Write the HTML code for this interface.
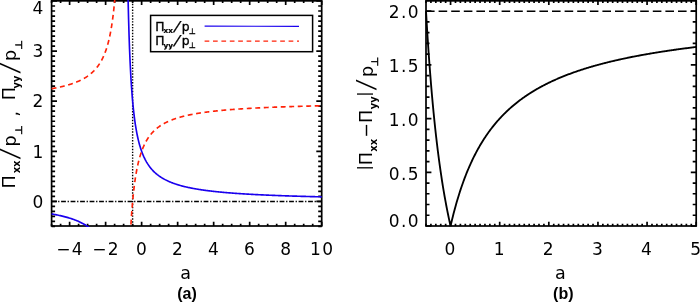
<!DOCTYPE html>
<html lang="en"><head><meta charset="utf-8"><title>Figure</title>
<style>html,body{margin:0;padding:0;background:#fff;}body{width:700px;height:302px;overflow:hidden;}svg{display:block;}text{font-family:"DejaVu Sans", "Liberation Sans", sans-serif;fill:#000;}.tk{font-size:17px;letter-spacing:1.3px;}.lab{font-size:17.5px;}.cap{font-family:"Liberation Sans",sans-serif;font-weight:bold;font-size:16px;}</style></head><body>
<svg width="700" height="302" viewBox="0 0 700 302">
<rect width="700" height="302" fill="#fff"/>
<defs><clipPath id="cl"><rect x="50.7" y="-0.05" width="271.9" height="226.95"/></clipPath>
<clipPath id="cr"><rect x="425.1" y="-0.05" width="272" height="226.95"/></clipPath></defs>
<path d="M51.6 226v-2.2M51.6 0.85v2.2M60.6 226v-2.2M60.6 0.85v2.2M69.61 226v-4.2M69.61 0.85v4.2M78.61 226v-2.2M78.61 0.85v2.2M87.61 226v-2.2M87.61 0.85v2.2M96.62 226v-2.2M96.62 0.85v2.2M105.62 226v-4.2M105.62 0.85v4.2M114.62 226v-2.2M114.62 0.85v2.2M123.63 226v-2.2M123.63 0.85v2.2M132.63 226v-2.2M132.63 0.85v2.2M141.63 226v-4.2M141.63 0.85v4.2M150.64 226v-2.2M150.64 0.85v2.2M159.64 226v-2.2M159.64 0.85v2.2M168.64 226v-2.2M168.64 0.85v2.2M177.65 226v-4.2M177.65 0.85v4.2M186.65 226v-2.2M186.65 0.85v2.2M195.65 226v-2.2M195.65 0.85v2.2M204.66 226v-2.2M204.66 0.85v2.2M213.66 226v-4.2M213.66 0.85v4.2M222.66 226v-2.2M222.66 0.85v2.2M231.67 226v-2.2M231.67 0.85v2.2M240.67 226v-2.2M240.67 0.85v2.2M249.67 226v-4.2M249.67 0.85v4.2M258.68 226v-2.2M258.68 0.85v2.2M267.68 226v-2.2M267.68 0.85v2.2M276.68 226v-2.2M276.68 0.85v2.2M285.69 226v-4.2M285.69 0.85v4.2M294.69 226v-2.2M294.69 0.85v2.2M303.69 226v-2.2M303.69 0.85v2.2M312.7 226v-2.2M312.7 0.85v2.2M321.7 226v-4.2M321.7 0.85v4.2M51.6 226.45h3.5M321.7 226.45h-3.5M51.6 221.44h3.5M321.7 221.44h-3.5M51.6 216.43h3.5M321.7 216.43h-3.5M51.6 211.42h3.5M321.7 211.42h-3.5M51.6 206.41h3.5M321.7 206.41h-3.5M51.6 201.4h5.4M321.7 201.4h-5.4M51.6 196.39h3.5M321.7 196.39h-3.5M51.6 191.38h3.5M321.7 191.38h-3.5M51.6 186.37h3.5M321.7 186.37h-3.5M51.6 181.36h3.5M321.7 181.36h-3.5M51.6 176.35h3.5M321.7 176.35h-3.5M51.6 171.34h3.5M321.7 171.34h-3.5M51.6 166.33h3.5M321.7 166.33h-3.5M51.6 161.32h3.5M321.7 161.32h-3.5M51.6 156.31h3.5M321.7 156.31h-3.5M51.6 151.3h5.4M321.7 151.3h-5.4M51.6 146.29h3.5M321.7 146.29h-3.5M51.6 141.28h3.5M321.7 141.28h-3.5M51.6 136.27h3.5M321.7 136.27h-3.5M51.6 131.26h3.5M321.7 131.26h-3.5M51.6 126.25h3.5M321.7 126.25h-3.5M51.6 121.24h3.5M321.7 121.24h-3.5M51.6 116.23h3.5M321.7 116.23h-3.5M51.6 111.22h3.5M321.7 111.22h-3.5M51.6 106.21h3.5M321.7 106.21h-3.5M51.6 101.2h5.4M321.7 101.2h-5.4M51.6 96.19h3.5M321.7 96.19h-3.5M51.6 91.18h3.5M321.7 91.18h-3.5M51.6 86.17h3.5M321.7 86.17h-3.5M51.6 81.16h3.5M321.7 81.16h-3.5M51.6 76.15h3.5M321.7 76.15h-3.5M51.6 71.14h3.5M321.7 71.14h-3.5M51.6 66.13h3.5M321.7 66.13h-3.5M51.6 61.12h3.5M321.7 61.12h-3.5M51.6 56.11h3.5M321.7 56.11h-3.5M51.6 51.1h5.4M321.7 51.1h-5.4M51.6 46.09h3.5M321.7 46.09h-3.5M51.6 41.08h3.5M321.7 41.08h-3.5M51.6 36.07h3.5M321.7 36.07h-3.5M51.6 31.06h3.5M321.7 31.06h-3.5M51.6 26.05h3.5M321.7 26.05h-3.5M51.6 21.04h3.5M321.7 21.04h-3.5M51.6 16.03h3.5M321.7 16.03h-3.5M51.6 11.02h3.5M321.7 11.02h-3.5M51.6 6.01h3.5M321.7 6.01h-3.5M51.6 1h5.4M321.7 1h-5.4" stroke="#000" stroke-width="1.7" fill="none"/>
<rect x="51.6" y="0.85" width="270.1" height="225.15" fill="none" stroke="#000" stroke-width="1.7"/>
<g clip-path="url(#cl)" fill="none" stroke-linejoin="round">
<line x1="132.63" y1="0.85" x2="132.63" y2="226" stroke="#000" stroke-width="1.4" stroke-dasharray="1.4 1.5"/>
<line x1="51.6" y1="201.4" x2="321.7" y2="201.4" stroke="#000" stroke-width="1.5" stroke-dasharray="4.8 1.7 1.3 1.7"/>
<polyline points="51.6,213.93 52.57,214.1 53.54,214.27 54.51,214.45 55.48,214.64 56.45,214.83 57.42,215.03 58.39,215.23 59.36,215.44 60.33,215.65 61.3,215.87 62.27,216.1 63.24,216.34 64.2,216.58 65.17,216.83 66.14,217.09 67.11,217.36 68.08,217.64 69.05,217.93 70.02,218.23 70.99,218.54 71.96,218.86 72.93,219.2 73.9,219.54 74.87,219.9 75.84,220.28 76.81,220.67 77.78,221.08 78.75,221.5 79.72,221.95 80.69,222.41 81.66,222.9 82.63,223.4 83.6,223.94 84.57,224.5 85.54,225.08 86.51,225.7 87.47,226.35 88.44,227.04 89.41,227.77" stroke="#1a00ee" stroke-width="1.65"/>
<polyline points="127.59,-26.33 128.07,-1.42 128.56,18.58 129.05,34.98 129.53,48.69 130.02,60.31 130.51,70.28 130.99,78.94 131.48,86.53 131.97,93.23 132.45,99.19 132.94,104.53 133.43,109.34 133.91,113.69 134.4,117.66 134.89,121.27 135.37,124.59 135.86,127.65 136.35,130.47 136.83,133.08 137.32,135.51 137.8,137.77 138.29,139.88 138.78,141.86 139.26,143.71 139.75,145.45 140.24,147.09 140.72,148.63 141.21,150.09 141.7,151.48 142.18,152.78 142.67,154.03 143.16,155.21 143.64,156.33 144.13,157.4 144.62,158.42 145.1,159.39 145.59,160.32 146.07,161.21 146.56,162.07 147.05,162.88 147.53,163.67 148.02,164.42 148.51,165.14 148.99,165.84 149.48,166.51 149.97,167.15 150.45,167.77 150.94,168.37 151.43,168.95 151.91,169.51 152.4,170.05 152.89,170.57 153.37,171.07 153.86,171.56 154.35,172.03 154.83,172.49 155.32,172.93 155.8,173.36 156.29,173.78 156.78,174.19 157.26,174.58 157.75,174.96 158.24,175.33 158.72,175.7 159.21,176.05 159.7,176.39 160.18,176.72 160.67,177.05 161.16,177.36 161.64,177.67 162.13,177.97 162.62,178.26 163.1,178.55 163.59,178.83 164.08,179.1 164.56,179.36 165.05,179.62 165.53,179.87 166.02,180.12 166.51,180.36 166.99,180.6 167.48,180.83 167.97,181.05 168.45,181.28 168.94,181.49 169.43,181.7 169.91,181.91 170.4,182.11 170.89,182.31 171.37,182.51 171.86,182.7 172.35,182.88 172.83,183.07 173.32,183.25 173.81,183.42 174.29,183.59 174.78,183.76 175.26,183.93 175.75,184.09 176.24,184.25 176.72,184.41 177.21,184.56 177.7,184.72 178.18,184.86 178.67,185.01 179.16,185.15 179.64,185.3 180.13,185.43 180.62,185.57 181.1,185.7 181.59,185.84 182.08,185.97 182.56,186.09 183.05,186.22 183.54,186.34 184.02,186.46 184.51,186.58 184.99,186.7 185.48,186.82 185.97,186.93 186.45,187.04 186.94,187.15 187.43,187.26 187.91,187.37 188.4,187.47 188.89,187.58 189.37,187.68 189.86,187.78 190.35,187.88 190.83,187.98 191.32,188.07 191.81,188.17 192.29,188.26 192.78,188.35 193.27,188.45 193.75,188.54 194.24,188.62 194.72,188.71 195.21,188.8 195.7,188.88 196.18,188.97 196.67,189.05 197.16,189.13 197.64,189.21 198.13,189.29 198.62,189.37 199.1,189.45 199.59,189.52 200.08,189.6 200.56,189.67 201.05,189.75 201.54,189.82 202.02,189.89 202.51,189.96 202.99,190.03 203.48,190.1 203.97,190.17 204.45,190.24 204.94,190.31 205.43,190.37 205.91,190.44 206.4,190.5 206.89,190.56 207.37,190.63 207.86,190.69 208.35,190.75 208.83,190.81 209.32,190.87 209.81,190.93 210.29,190.99 210.78,191.05 211.27,191.11 211.75,191.16 212.24,191.22 212.72,191.27 213.21,191.33 213.7,191.38 214.18,191.44 214.67,191.49 215.16,191.54 215.64,191.6 216.13,191.65 216.62,191.7 217.1,191.75 217.59,191.8 218.08,191.85 218.56,191.9 219.05,191.95 219.54,191.99 220.02,192.04 220.51,192.09 221,192.13 221.48,192.18 221.97,192.23 222.45,192.27 222.94,192.32 223.43,192.36 223.91,192.4 224.4,192.45 224.89,192.49 225.37,192.53 225.86,192.58 226.35,192.62 226.83,192.66 227.32,192.7 227.81,192.74 228.29,192.78 228.78,192.82 229.27,192.86 229.75,192.9 230.24,192.94 230.73,192.98 231.21,193.01 231.7,193.05 232.18,193.09 232.67,193.13 233.16,193.16 233.64,193.2 234.13,193.24 234.62,193.27 235.1,193.31 235.59,193.34 236.08,193.38 236.56,193.41 237.05,193.45 237.54,193.48 238.02,193.51 238.51,193.55 239,193.58 239.48,193.61 239.97,193.65 240.46,193.68 240.94,193.71 241.43,193.74 241.91,193.77 242.4,193.8 242.89,193.84 243.37,193.87 243.86,193.9 244.35,193.93 244.83,193.96 245.32,193.99 245.81,194.02 246.29,194.05 246.78,194.07 247.27,194.1 247.75,194.13 248.24,194.16 248.73,194.19 249.21,194.22 249.7,194.24 250.19,194.27 250.67,194.3 251.16,194.33 251.64,194.35 252.13,194.38 252.62,194.41 253.1,194.43 253.59,194.46 254.08,194.48 254.56,194.51 255.05,194.54 255.54,194.56 256.02,194.59 256.51,194.61 257,194.64 257.48,194.66 257.97,194.68 258.46,194.71 258.94,194.73 259.43,194.76 259.92,194.78 260.4,194.8 260.89,194.83 261.37,194.85 261.86,194.87 262.35,194.9 262.83,194.92 263.32,194.94 263.81,194.96 264.29,194.99 264.78,195.01 265.27,195.03 265.75,195.05 266.24,195.07 266.73,195.1 267.21,195.12 267.7,195.14 268.19,195.16 268.67,195.18 269.16,195.2 269.64,195.22 270.13,195.24 270.62,195.26 271.1,195.28 271.59,195.3 272.08,195.32 272.56,195.34 273.05,195.36 273.54,195.38 274.02,195.4 274.51,195.42 275,195.44 275.48,195.46 275.97,195.48 276.46,195.5 276.94,195.52 277.43,195.53 277.92,195.55 278.4,195.57 278.89,195.59 279.37,195.61 279.86,195.63 280.35,195.64 280.83,195.66 281.32,195.68 281.81,195.7 282.29,195.71 282.78,195.73 283.27,195.75 283.75,195.77 284.24,195.78 284.73,195.8 285.21,195.82 285.7,195.83 286.19,195.85 286.67,195.87 287.16,195.88 287.65,195.9 288.13,195.92 288.62,195.93 289.1,195.95 289.59,195.96 290.08,195.98 290.56,196 291.05,196.01 291.54,196.03 292.02,196.04 292.51,196.06 293,196.07 293.48,196.09 293.97,196.1 294.46,196.12 294.94,196.13 295.43,196.15 295.92,196.16 296.4,196.18 296.89,196.19 297.38,196.21 297.86,196.22 298.35,196.24 298.83,196.25 299.32,196.27 299.81,196.28 300.29,196.29 300.78,196.31 301.27,196.32 301.75,196.34 302.24,196.35 302.73,196.36 303.21,196.38 303.7,196.39 304.19,196.4 304.67,196.42 305.16,196.43 305.65,196.44 306.13,196.46 306.62,196.47 307.11,196.48 307.59,196.5 308.08,196.51 308.56,196.52 309.05,196.53 309.54,196.55 310.02,196.56 310.51,196.57 311,196.59 311.48,196.6 311.97,196.61 312.46,196.62 312.94,196.63 313.43,196.65 313.92,196.66 314.4,196.67 314.89,196.68 315.38,196.7 315.86,196.71 316.35,196.72 316.84,196.73 317.32,196.74 317.81,196.75 318.29,196.77 318.78,196.78 319.27,196.79 319.75,196.8 320.24,196.81 320.73,196.82 321.21,196.83 321.7,196.85" stroke="#1a00ee" stroke-width="1.65"/>
<polyline points="51.6,88.67 51.92,88.62 52.24,88.56 52.56,88.51 52.88,88.45 53.21,88.39 53.53,88.33 53.85,88.27 54.17,88.21 54.49,88.15 54.81,88.09 55.13,88.03 55.45,87.97 55.78,87.9 56.1,87.84 56.42,87.78 56.74,87.71 57.06,87.65 57.38,87.58 57.7,87.52 58.02,87.45 58.35,87.38 58.67,87.31 58.99,87.24 59.31,87.17 59.63,87.1 59.95,87.03 60.27,86.96 60.59,86.89 60.92,86.81 61.24,86.74 61.56,86.67 61.88,86.59 62.2,86.51 62.52,86.44 62.84,86.36 63.16,86.28 63.49,86.2 63.81,86.12 64.13,86.04 64.45,85.96 64.77,85.87 65.09,85.79 65.41,85.7 65.73,85.62 66.06,85.53 66.38,85.44 66.7,85.35 67.02,85.26 67.34,85.17 67.66,85.08 67.98,84.99 68.3,84.89 68.62,84.8 68.95,84.7 69.27,84.6 69.59,84.51 69.91,84.41 70.23,84.3 70.55,84.2 70.87,84.1 71.19,83.99 71.52,83.89 71.84,83.78 72.16,83.67 72.48,83.56 72.8,83.45 73.12,83.34 73.44,83.22 73.76,83.11 74.09,82.99 74.41,82.87 74.73,82.75 75.05,82.63 75.37,82.51 75.69,82.38 76.01,82.25 76.33,82.12 76.66,81.99 76.98,81.86 77.3,81.73 77.62,81.59 77.94,81.45 78.26,81.31 78.58,81.17 78.9,81.03 79.23,80.88 79.55,80.73 79.87,80.58 80.19,80.43 80.51,80.28 80.83,80.12 81.15,79.96 81.47,79.8 81.8,79.63 82.12,79.47 82.44,79.3 82.76,79.13 83.08,78.95 83.4,78.77 83.72,78.59 84.04,78.41 84.36,78.22 84.69,78.03 85.01,77.84 85.33,77.64 85.65,77.45 85.97,77.24 86.29,77.04 86.61,76.83 86.93,76.61 87.26,76.4 87.58,76.18 87.9,75.95 88.22,75.72 88.54,75.49 88.86,75.25 89.18,75.01 89.5,74.76 89.83,74.51 90.15,74.25 90.47,73.99 90.79,73.73 91.11,73.46 91.43,73.18 91.75,72.9 92.07,72.61 92.4,72.31 92.72,72.01 93.04,71.71 93.36,71.39 93.68,71.07 94,70.75 94.32,70.41 94.64,70.07 94.97,69.72 95.29,69.37 95.61,69 95.93,68.63 96.25,68.25 96.57,67.86 96.89,67.46 97.21,67.04 97.54,66.62 97.86,66.19 98.18,65.75 98.5,65.3 98.82,64.83 99.14,64.36 99.46,63.87 99.78,63.36 100.1,62.85 100.43,62.32 100.75,61.77 101.07,61.21 101.39,60.63 101.71,60.04 102.03,59.42 102.35,58.79 102.67,58.14 103,57.47 103.32,56.78 103.64,56.07 103.96,55.33 104.28,54.57 104.6,53.78 104.92,52.97 105.24,52.12 105.57,51.25 105.89,50.35 106.21,49.41 106.53,48.44 106.85,47.42 107.17,46.38 107.49,45.28 107.81,44.15 108.14,42.96 108.46,41.73 108.78,40.44 109.1,39.1 109.42,37.7 109.74,36.23 110.06,34.69 110.38,33.08 110.71,31.38 111.03,29.6 111.35,27.73 111.67,25.76 111.99,23.67 112.31,21.47 112.63,19.14 112.95,16.67 113.28,14.05 113.6,11.26 113.92,8.28 114.24,5.1 114.56,1.7 114.88,-1.95 115.2,-5.89 115.52,-10.13" stroke="#ff2208" stroke-width="1.65" stroke-dasharray="4.9 3.6"/>
<polyline points="130.47,233.04 130.85,226.05 131.24,219.76 131.62,214.08 132,208.91 132.39,204.2 132.77,199.88 133.15,195.91 133.54,192.25 133.92,188.86 134.3,185.71 134.68,182.78 135.07,180.05 135.45,177.49 135.83,175.1 136.22,172.85 136.6,170.73 136.98,168.74 137.37,166.85 137.75,165.07 138.13,163.39 138.52,161.79 138.9,160.27 139.28,158.82 139.67,157.44 140.05,156.13 140.43,154.88 140.82,153.68 141.2,152.54 141.58,151.44 141.97,150.39 142.35,149.38 142.73,148.42 143.12,147.49 143.5,146.6 143.88,145.74 144.27,144.91 144.65,144.11 145.03,143.35 145.42,142.6 145.8,141.89 146.18,141.2 146.56,140.53 146.95,139.88 147.33,139.26 147.71,138.65 148.1,138.07 148.48,137.5 148.86,136.95 149.25,136.41 149.63,135.89 150.01,135.39 150.4,134.9 150.78,134.42 151.16,133.96 151.55,133.51 151.93,133.07 152.31,132.65 152.7,132.23 153.08,131.83 153.46,131.44 153.85,131.05 154.23,130.68 154.61,130.31 155,129.96 155.38,129.61 155.76,129.27 156.15,128.94 156.53,128.62 156.91,128.3 157.3,127.99 157.68,127.69 158.06,127.4 158.44,127.11 158.83,126.83 159.21,126.55 159.59,126.28 159.98,126.02 160.36,125.76 160.74,125.5 161.13,125.26 161.51,125.01 161.89,124.77 162.28,124.54 162.66,124.31 163.04,124.09 163.43,123.87 163.81,123.65 164.19,123.44 164.58,123.23 164.96,123.03 165.34,122.83 165.73,122.63 166.11,122.44 166.49,122.25 166.88,122.06 167.26,121.88 167.64,121.7 168.03,121.52 168.41,121.34 168.79,121.17 169.18,121.01 169.56,120.84 169.94,120.68 170.32,120.52 170.71,120.36 171.09,120.21 171.47,120.05 171.86,119.9 172.24,119.76 172.62,119.61 173.01,119.47 173.39,119.33 173.77,119.19 174.16,119.05 174.54,118.92 174.92,118.79 175.31,118.66 175.69,118.53 176.07,118.4 176.46,118.28 176.84,118.15 177.22,118.03 177.61,117.91 177.99,117.79 178.37,117.68 178.76,117.56 179.14,117.45 179.52,117.34 179.91,117.23 180.29,117.12 180.67,117.01 181.06,116.91 181.44,116.8 181.82,116.7 182.2,116.6 182.59,116.5 182.97,116.4 183.35,116.3 183.74,116.21 184.12,116.11 184.5,116.02 184.89,115.93 185.27,115.83 185.65,115.74 186.04,115.65 186.42,115.57 186.8,115.48 187.19,115.39 187.57,115.31 187.95,115.22 188.34,115.14 188.72,115.06 189.1,114.98 189.49,114.9 189.87,114.82 190.25,114.74 190.64,114.66 191.02,114.59 191.4,114.51 191.79,114.44 192.17,114.36 192.55,114.29 192.94,114.22 193.32,114.14 193.7,114.07 194.09,114 194.47,113.93 194.85,113.87 195.23,113.8 195.62,113.73 196,113.66 196.38,113.6 196.77,113.53 197.15,113.47 197.53,113.41 197.92,113.34 198.3,113.28 198.68,113.22 199.07,113.16 199.45,113.1 199.83,113.04 200.22,112.98 200.6,112.92 200.98,112.86 201.37,112.8 201.75,112.75 202.13,112.69 202.52,112.64 202.9,112.58 203.28,112.53 203.67,112.47 204.05,112.42 204.43,112.36 204.82,112.31 205.2,112.26 205.58,112.21 205.97,112.16 206.35,112.11 206.73,112.06 207.11,112.01 207.5,111.96 207.88,111.91 208.26,111.86 208.65,111.81 209.03,111.76 209.41,111.72 209.8,111.67 210.18,111.62 210.56,111.58 210.95,111.53 211.33,111.49 211.71,111.44 212.1,111.4 212.48,111.35 212.86,111.31 213.25,111.27 213.63,111.22 214.01,111.18 214.4,111.14 214.78,111.1 215.16,111.06 215.55,111.01 215.93,110.97 216.31,110.93 216.7,110.89 217.08,110.85 217.46,110.81 217.85,110.77 218.23,110.74 218.61,110.7 218.99,110.66 219.38,110.62 219.76,110.58 220.14,110.55 220.53,110.51 220.91,110.47 221.29,110.44 221.68,110.4 222.06,110.36 222.44,110.33 222.83,110.29 223.21,110.26 223.59,110.22 223.98,110.19 224.36,110.16 224.74,110.12 225.13,110.09 225.51,110.05 225.89,110.02 226.28,109.99 226.66,109.96 227.04,109.92 227.43,109.89 227.81,109.86 228.19,109.83 228.58,109.8 228.96,109.76 229.34,109.73 229.73,109.7 230.11,109.67 230.49,109.64 230.87,109.61 231.26,109.58 231.64,109.55 232.02,109.52 232.41,109.49 232.79,109.46 233.17,109.44 233.56,109.41 233.94,109.38 234.32,109.35 234.71,109.32 235.09,109.29 235.47,109.27 235.86,109.24 236.24,109.21 236.62,109.18 237.01,109.16 237.39,109.13 237.77,109.1 238.16,109.08 238.54,109.05 238.92,109.02 239.31,109 239.69,108.97 240.07,108.95 240.46,108.92 240.84,108.9 241.22,108.87 241.61,108.85 241.99,108.82 242.37,108.8 242.76,108.77 243.14,108.75 243.52,108.72 243.9,108.7 244.29,108.68 244.67,108.65 245.05,108.63 245.44,108.61 245.82,108.58 246.2,108.56 246.59,108.54 246.97,108.51 247.35,108.49 247.74,108.47 248.12,108.45 248.5,108.42 248.89,108.4 249.27,108.38 249.65,108.36 250.04,108.34 250.42,108.32 250.8,108.29 251.19,108.27 251.57,108.25 251.95,108.23 252.34,108.21 252.72,108.19 253.1,108.17 253.49,108.15 253.87,108.13 254.25,108.11 254.64,108.09 255.02,108.07 255.4,108.05 255.78,108.03 256.17,108.01 256.55,107.99 256.93,107.97 257.32,107.95 257.7,107.93 258.08,107.91 258.47,107.89 258.85,107.87 259.23,107.85 259.62,107.83 260,107.82 260.38,107.8 260.77,107.78 261.15,107.76 261.53,107.74 261.92,107.72 262.3,107.71 262.68,107.69 263.07,107.67 263.45,107.65 263.83,107.63 264.22,107.62 264.6,107.6 264.98,107.58 265.37,107.56 265.75,107.55 266.13,107.53 266.52,107.51 266.9,107.5 267.28,107.48 267.66,107.46 268.05,107.45 268.43,107.43 268.81,107.41 269.2,107.4 269.58,107.38 269.96,107.36 270.35,107.35 270.73,107.33 271.11,107.32 271.5,107.3 271.88,107.29 272.26,107.27 272.65,107.25 273.03,107.24 273.41,107.22 273.8,107.21 274.18,107.19 274.56,107.18 274.95,107.16 275.33,107.15 275.71,107.13 276.1,107.12 276.48,107.1 276.86,107.09 277.25,107.07 277.63,107.06 278.01,107.04 278.4,107.03 278.78,107.01 279.16,107 279.54,106.99 279.93,106.97 280.31,106.96 280.69,106.94 281.08,106.93 281.46,106.92 281.84,106.9 282.23,106.89 282.61,106.87 282.99,106.86 283.38,106.85 283.76,106.83 284.14,106.82 284.53,106.81 284.91,106.79 285.29,106.78 285.68,106.77 286.06,106.75 286.44,106.74 286.83,106.73 287.21,106.71 287.59,106.7 287.98,106.69 288.36,106.68 288.74,106.66 289.13,106.65 289.51,106.64 289.89,106.63 290.28,106.61 290.66,106.6 291.04,106.59 291.42,106.58 291.81,106.56 292.19,106.55 292.57,106.54 292.96,106.53 293.34,106.52 293.72,106.5 294.11,106.49 294.49,106.48 294.87,106.47 295.26,106.46 295.64,106.44 296.02,106.43 296.41,106.42 296.79,106.41 297.17,106.4 297.56,106.39 297.94,106.38 298.32,106.36 298.71,106.35 299.09,106.34 299.47,106.33 299.86,106.32 300.24,106.31 300.62,106.3 301.01,106.29 301.39,106.27 301.77,106.26 302.16,106.25 302.54,106.24 302.92,106.23 303.31,106.22 303.69,106.21 304.07,106.2 304.45,106.19 304.84,106.18 305.22,106.17 305.6,106.16 305.99,106.15 306.37,106.14 306.75,106.13 307.14,106.12 307.52,106.11 307.9,106.1 308.29,106.09 308.67,106.08 309.05,106.07 309.44,106.06 309.82,106.05 310.2,106.04 310.59,106.03 310.97,106.02 311.35,106.01 311.74,106 312.12,105.99 312.5,105.98 312.89,105.97 313.27,105.96 313.65,105.95 314.04,105.94 314.42,105.93 314.8,105.92 315.19,105.91 315.57,105.9 315.95,105.89 316.33,105.88 316.72,105.87 317.1,105.86 317.48,105.85 317.87,105.84 318.25,105.84 318.63,105.83 319.02,105.82 319.4,105.81 319.78,105.8 320.17,105.79 320.55,105.78 320.93,105.77 321.32,105.76 321.7,105.75" stroke="#ff2208" stroke-width="1.65" stroke-dasharray="4.9 3.6"/>
</g>
<text class="tk" x="70.11" y="255" text-anchor="middle">−4</text>
<text class="tk" x="106.12" y="255" text-anchor="middle">−2</text>
<text class="tk" x="142.13" y="255" text-anchor="middle">0</text>
<text class="tk" x="178.15" y="255" text-anchor="middle">2</text>
<text class="tk" x="214.16" y="255" text-anchor="middle">4</text>
<text class="tk" x="250.17" y="255" text-anchor="middle">6</text>
<text class="tk" x="286.19" y="255" text-anchor="middle">8</text>
<text class="tk" x="322.2" y="255" text-anchor="middle">10</text>
<text class="tk" x="44.6" y="207.6" text-anchor="end">0</text>
<text class="tk" x="44.6" y="157.5" text-anchor="end">1</text>
<text class="tk" x="44.6" y="107.4" text-anchor="end">2</text>
<text class="tk" x="44.6" y="57.3" text-anchor="end">3</text>
<text class="tk" x="44.6" y="13.6" text-anchor="end">4</text>
<text class="lab" x="185.6" y="278.5" text-anchor="middle">a</text>
<text class="cap" x="187" y="298.6" text-anchor="middle">(a)</text>
<g transform="translate(15.3 0) rotate(-90)" text-anchor="middle">
<text x="-181.9" y="0" font-size="17.5px">Π</text>
<text x="-166.9" y="5" font-size="10px" font-weight="bold">xx</text>
<text transform="translate(-153.8 2.4) scale(1.45 1)" font-size="24px" font-weight="200">/</text>
<text x="-141" y="1" font-size="17.5px">p</text>
<text transform="translate(-130.3 6.3) scale(1 0.85)" font-size="11px" stroke="#000" stroke-width="0.6">⊥</text>
<text x="-113.8" y="2.5" font-size="17.5px">,</text>
<text x="-93.6" y="0" font-size="17.5px">Π</text>
<text x="-82" y="5" font-size="10px" font-weight="bold">yy</text>
<text transform="translate(-68.2 2.4) scale(1.45 1)" font-size="24px" font-weight="200">/</text>
<text x="-55.4" y="1" font-size="17.5px">p</text>
<text transform="translate(-45 6.3) scale(1 0.85)" font-size="11px" stroke="#000" stroke-width="0.6">⊥</text>
</g>
<rect x="150.6" y="15.4" width="162" height="36.3" fill="#fff" stroke="#000" stroke-width="1.5"/>
<line x1="204.6" y1="26.2" x2="299" y2="26.3" stroke="#1a00ee" stroke-width="1.2"/>
<line x1="204.6" y1="41.2" x2="299" y2="41.2" stroke="#ff2208" stroke-width="1.3" stroke-dasharray="4.7 3.7"/>
<g text-anchor="middle" stroke="#000" stroke-width="0.35">
<text x="159.8" y="30.5" font-size="12.3px">Π</text>
<text x="168.2" y="33.2" font-size="7.2px" font-weight="bold" stroke-width="0.2">xx</text>
<text transform="translate(177.2 30.9) scale(2.0 1)" font-size="14.6px" font-weight="200" stroke-width="0.1">/</text>
<text x="185.7" y="30.5" font-size="12.3px">p</text>
<text x="192.4" y="33.7" font-size="8px">⊥</text>
</g>
<g text-anchor="middle" stroke="#000" stroke-width="0.35">
<text x="159.8" y="45" font-size="12.3px">Π</text>
<text x="168.2" y="47.7" font-size="7.2px" font-weight="bold" stroke-width="0.2">yy</text>
<text transform="translate(177.2 45.4) scale(2.0 1)" font-size="14.6px" font-weight="200" stroke-width="0.1">/</text>
<text x="185.7" y="45" font-size="12.3px">p</text>
<text x="192.4" y="48.2" font-size="8px">⊥</text>
</g>
<path d="M426 226v-2.2M426 0.85v2.2M430.91 226v-2.2M430.91 0.85v2.2M435.83 226v-2.2M435.83 0.85v2.2M440.74 226v-2.2M440.74 0.85v2.2M445.65 226v-2.2M445.65 0.85v2.2M450.56 226v-4.2M450.56 0.85v4.2M455.48 226v-2.2M455.48 0.85v2.2M460.39 226v-2.2M460.39 0.85v2.2M465.3 226v-2.2M465.3 0.85v2.2M470.21 226v-2.2M470.21 0.85v2.2M475.13 226v-2.2M475.13 0.85v2.2M480.04 226v-2.2M480.04 0.85v2.2M484.95 226v-2.2M484.95 0.85v2.2M489.87 226v-2.2M489.87 0.85v2.2M494.78 226v-2.2M494.78 0.85v2.2M499.69 226v-4.2M499.69 0.85v4.2M504.6 226v-2.2M504.6 0.85v2.2M509.52 226v-2.2M509.52 0.85v2.2M514.43 226v-2.2M514.43 0.85v2.2M519.34 226v-2.2M519.34 0.85v2.2M524.25 226v-2.2M524.25 0.85v2.2M529.17 226v-2.2M529.17 0.85v2.2M534.08 226v-2.2M534.08 0.85v2.2M538.99 226v-2.2M538.99 0.85v2.2M543.91 226v-2.2M543.91 0.85v2.2M548.82 226v-4.2M548.82 0.85v4.2M553.73 226v-2.2M553.73 0.85v2.2M558.64 226v-2.2M558.64 0.85v2.2M563.56 226v-2.2M563.56 0.85v2.2M568.47 226v-2.2M568.47 0.85v2.2M573.38 226v-2.2M573.38 0.85v2.2M578.29 226v-2.2M578.29 0.85v2.2M583.21 226v-2.2M583.21 0.85v2.2M588.12 226v-2.2M588.12 0.85v2.2M593.03 226v-2.2M593.03 0.85v2.2M597.95 226v-4.2M597.95 0.85v4.2M602.86 226v-2.2M602.86 0.85v2.2M607.77 226v-2.2M607.77 0.85v2.2M612.68 226v-2.2M612.68 0.85v2.2M617.6 226v-2.2M617.6 0.85v2.2M622.51 226v-2.2M622.51 0.85v2.2M627.42 226v-2.2M627.42 0.85v2.2M632.33 226v-2.2M632.33 0.85v2.2M637.25 226v-2.2M637.25 0.85v2.2M642.16 226v-2.2M642.16 0.85v2.2M647.07 226v-4.2M647.07 0.85v4.2M651.99 226v-2.2M651.99 0.85v2.2M656.9 226v-2.2M656.9 0.85v2.2M661.81 226v-2.2M661.81 0.85v2.2M666.72 226v-2.2M666.72 0.85v2.2M671.64 226v-2.2M671.64 0.85v2.2M676.55 226v-2.2M676.55 0.85v2.2M681.46 226v-2.2M681.46 0.85v2.2M686.37 226v-2.2M686.37 0.85v2.2M691.29 226v-2.2M691.29 0.85v2.2M696.2 226v-4.2M696.2 0.85v4.2M426 226h5.4M696.2 226h-5.4M426 215.26h3.5M696.2 215.26h-3.5M426 204.52h3.5M696.2 204.52h-3.5M426 193.77h3.5M696.2 193.77h-3.5M426 183.03h3.5M696.2 183.03h-3.5M426 172.29h5.4M696.2 172.29h-5.4M426 161.55h3.5M696.2 161.55h-3.5M426 150.81h3.5M696.2 150.81h-3.5M426 140.06h3.5M696.2 140.06h-3.5M426 129.32h3.5M696.2 129.32h-3.5M426 118.58h5.4M696.2 118.58h-5.4M426 107.84h3.5M696.2 107.84h-3.5M426 97.1h3.5M696.2 97.1h-3.5M426 86.36h3.5M696.2 86.36h-3.5M426 75.61h3.5M696.2 75.61h-3.5M426 64.87h5.4M696.2 64.87h-5.4M426 54.13h3.5M696.2 54.13h-3.5M426 43.39h3.5M696.2 43.39h-3.5M426 32.65h3.5M696.2 32.65h-3.5M426 21.9h3.5M696.2 21.9h-3.5M426 11.16h5.4M696.2 11.16h-5.4M426 0.42h3.5M696.2 0.42h-3.5" stroke="#000" stroke-width="1.7" fill="none"/>
<rect x="426" y="0.85" width="270.2" height="225.15" fill="none" stroke="#000" stroke-width="1.7"/>
<g clip-path="url(#cr)" fill="none" stroke-linejoin="round">
<line x1="426" y1="11.16" x2="696.2" y2="11.16" stroke="#000" stroke-width="1.5" stroke-dasharray="8.6 4"/>
<polyline points="426,11.16 426.85,25.48 427.69,38.88 428.54,51.44 429.39,63.24 430.24,74.35 431.08,84.82 431.93,94.71 432.78,104.07 433.62,112.93 434.47,121.34 435.32,129.32 436.16,136.92 437.01,144.16 437.86,151.06 438.71,157.64 439.55,163.94 440.4,169.96 441.25,175.72 442.09,181.24 442.94,186.54 443.79,191.63 444.63,196.51 445.48,201.21 446.33,205.73 447.18,210.09 448.02,214.28 448.87,218.33 449.72,222.23 450.56,226 451.18,223.34 451.79,220.75 452.41,218.22 453.03,215.75 453.64,213.33 454.26,210.98 454.87,208.67 455.49,206.42 456.1,204.23 456.72,202.08 457.34,199.97 457.95,197.92 458.57,195.9 459.18,193.93 459.8,192.01 460.41,190.12 461.03,188.27 461.64,186.46 462.26,184.69 462.88,182.95 463.49,181.24 464.11,179.57 464.72,177.93 465.34,176.33 465.95,174.75 466.57,173.2 467.19,171.69 467.8,170.2 468.42,168.74 469.03,167.3 469.65,165.89 470.26,164.51 470.88,163.15 471.5,161.81 472.11,160.5 472.73,159.21 473.34,157.94 473.96,156.7 474.57,155.47 475.19,154.27 475.8,153.08 476.42,151.92 477.04,150.77 477.65,149.64 478.27,148.53 478.88,147.44 479.5,146.37 480.11,145.31 480.73,144.27 481.35,143.24 481.96,142.23 482.58,141.24 483.19,140.26 483.81,139.29 484.42,138.34 485.04,137.41 485.65,136.48 486.27,135.57 486.89,134.68 487.5,133.79 488.12,132.92 488.73,132.07 489.35,131.22 489.96,130.38 490.58,129.56 491.2,128.75 491.81,127.95 492.43,127.16 493.04,126.38 493.66,125.61 494.27,124.85 494.89,124.1 495.5,123.36 496.12,122.63 496.74,121.91 497.35,121.2 497.97,120.5 498.58,119.81 499.2,119.12 499.81,118.45 500.43,117.78 501.05,117.12 501.66,116.47 502.28,115.83 502.89,115.19 503.51,114.56 504.12,113.94 504.74,113.33 505.35,112.73 505.97,112.13 506.59,111.54 507.2,110.95 507.82,110.38 508.43,109.8 509.05,109.24 509.66,108.68 510.28,108.13 510.9,107.59 511.51,107.05 512.13,106.51 512.74,105.99 513.36,105.46 513.97,104.95 514.59,104.44 515.2,103.93 515.82,103.43 516.44,102.94 517.05,102.45 517.67,101.97 518.28,101.49 518.9,101.02 519.51,100.55 520.13,100.08 520.75,99.62 521.36,99.17 521.98,98.72 522.59,98.28 523.21,97.84 523.82,97.4 524.44,96.97 525.05,96.54 525.67,96.12 526.29,95.7 526.9,95.28 527.52,94.87 528.13,94.47 528.75,94.06 529.36,93.66 529.98,93.27 530.6,92.88 531.21,92.49 531.83,92.11 532.44,91.73 533.06,91.35 533.67,90.98 534.29,90.61 534.9,90.24 535.52,89.88 536.14,89.52 536.75,89.16 537.37,88.81 537.98,88.46 538.6,88.11 539.21,87.77 539.83,87.43 540.45,87.09 541.06,86.75 541.68,86.42 542.29,86.09 542.91,85.77 543.52,85.44 544.14,85.12 544.76,84.81 545.37,84.49 545.99,84.18 546.6,83.87 547.22,83.56 547.83,83.26 548.45,82.95 549.06,82.66 549.68,82.36 550.3,82.06 550.91,81.77 551.53,81.48 552.14,81.2 552.76,80.91 553.37,80.63 553.99,80.35 554.61,80.07 555.22,79.79 555.84,79.52 556.45,79.25 557.07,78.98 557.68,78.71 558.3,78.45 558.91,78.18 559.53,77.92 560.15,77.66 560.76,77.41 561.38,77.15 561.99,76.9 562.61,76.65 563.22,76.4 563.84,76.15 564.46,75.91 565.07,75.66 565.69,75.42 566.3,75.18 566.92,74.94 567.53,74.71 568.15,74.47 568.76,74.24 569.38,74.01 570,73.78 570.61,73.55 571.23,73.32 571.84,73.1 572.46,72.88 573.07,72.65 573.69,72.43 574.31,72.22 574.92,72 575.54,71.78 576.15,71.57 576.77,71.36 577.38,71.15 578,70.94 578.61,70.73 579.23,70.53 579.85,70.32 580.46,70.12 581.08,69.91 581.69,69.71 582.31,69.52 582.92,69.32 583.54,69.12 584.16,68.93 584.77,68.73 585.39,68.54 586,68.35 586.62,68.16 587.23,67.97 587.85,67.78 588.46,67.59 589.08,67.41 589.7,67.23 590.31,67.04 590.93,66.86 591.54,66.68 592.16,66.5 592.77,66.32 593.39,66.15 594.01,65.97 594.62,65.8 595.24,65.62 595.85,65.45 596.47,65.28 597.08,65.11 597.7,64.94 598.31,64.77 598.93,64.6 599.55,64.44 600.16,64.27 600.78,64.11 601.39,63.95 602.01,63.78 602.62,63.62 603.24,63.46 603.86,63.3 604.47,63.15 605.09,62.99 605.7,62.83 606.32,62.68 606.93,62.52 607.55,62.37 608.16,62.22 608.78,62.06 609.4,61.91 610.01,61.76 610.63,61.62 611.24,61.47 611.86,61.32 612.47,61.17 613.09,61.03 613.71,60.88 614.32,60.74 614.94,60.6 615.55,60.46 616.17,60.31 616.78,60.17 617.4,60.03 618.01,59.89 618.63,59.76 619.25,59.62 619.86,59.48 620.48,59.35 621.09,59.21 621.71,59.08 622.32,58.94 622.94,58.81 623.56,58.68 624.17,58.55 624.79,58.42 625.4,58.29 626.02,58.16 626.63,58.03 627.25,57.9 627.87,57.77 628.48,57.65 629.1,57.52 629.71,57.4 630.33,57.27 630.94,57.15 631.56,57.03 632.17,56.9 632.79,56.78 633.41,56.66 634.02,56.54 634.64,56.42 635.25,56.3 635.87,56.18 636.48,56.07 637.1,55.95 637.72,55.83 638.33,55.72 638.95,55.6 639.56,55.49 640.18,55.37 640.79,55.26 641.41,55.14 642.02,55.03 642.64,54.92 643.26,54.81 643.87,54.7 644.49,54.59 645.1,54.48 645.72,54.37 646.33,54.26 646.95,54.15 647.57,54.04 648.18,53.94 648.8,53.83 649.41,53.72 650.03,53.62 650.64,53.51 651.26,53.41 651.87,53.31 652.49,53.2 653.11,53.1 653.72,53 654.34,52.9 654.95,52.79 655.57,52.69 656.18,52.59 656.8,52.49 657.42,52.39 658.03,52.29 658.65,52.2 659.26,52.1 659.88,52 660.49,51.9 661.11,51.81 661.72,51.71 662.34,51.62 662.96,51.52 663.57,51.43 664.19,51.33 664.8,51.24 665.42,51.14 666.03,51.05 666.65,50.96 667.27,50.87 667.88,50.77 668.5,50.68 669.11,50.59 669.73,50.5 670.34,50.41 670.96,50.32 671.57,50.23 672.19,50.14 672.81,50.06 673.42,49.97 674.04,49.88 674.65,49.79 675.27,49.71 675.88,49.62 676.5,49.53 677.12,49.45 677.73,49.36 678.35,49.28 678.96,49.19 679.58,49.11 680.19,49.02 680.81,48.94 681.42,48.86 682.04,48.78 682.66,48.69 683.27,48.61 683.89,48.53 684.5,48.45 685.12,48.37 685.73,48.29 686.35,48.21 686.97,48.13 687.58,48.05 688.2,47.97 688.81,47.89 689.43,47.81 690.04,47.73 690.66,47.65 691.27,47.58 691.89,47.5 692.51,47.42 693.12,47.35 693.74,47.27 694.35,47.19 694.97,47.12 695.58,47.04 696.2,46.97" stroke="#000" stroke-width="1.85" stroke-linejoin="miter"/>
</g>
<text class="tk" x="450.56" y="255" text-anchor="middle">0</text>
<text class="tk" x="499.69" y="255" text-anchor="middle">1</text>
<text class="tk" x="548.82" y="255" text-anchor="middle">2</text>
<text class="tk" x="597.95" y="255" text-anchor="middle">3</text>
<text class="tk" x="647.07" y="255" text-anchor="middle">4</text>
<text class="tk" x="696.2" y="255" text-anchor="middle">5</text>
<text class="tk" x="419.8" y="226.6" text-anchor="end">0.0</text>
<text class="tk" x="419.8" y="179.89" text-anchor="end">0.5</text>
<text class="tk" x="419.8" y="126.18" text-anchor="end">1.0</text>
<text class="tk" x="419.8" y="72.47" text-anchor="end">1.5</text>
<text class="tk" x="419.8" y="18.3" text-anchor="end">2.0</text>
<text class="lab" x="560.3" y="278.5" text-anchor="middle">a</text>
<text class="cap" x="563.3" y="298.5" text-anchor="middle">(b)</text>
<g transform="translate(371.5 0) rotate(-90)" text-anchor="middle">
<text x="-167.8" y="-2.6" font-size="16px">|</text>
<text x="-158.6" y="0" font-size="17.5px">Π</text>
<text x="-145.35" y="5" font-size="10px" font-weight="bold">xx</text>
<text x="-130.3" y="0" font-size="17.5px">−</text>
<text x="-116.5" y="0" font-size="17.5px">Π</text>
<text x="-102.8" y="5" font-size="10px" font-weight="bold">yy</text>
<text x="-94" y="-2.6" font-size="16px">|</text>
<text transform="translate(-84.8 2.4) scale(1.45 1)" font-size="24px" font-weight="200">/</text>
<text x="-71.5" y="1" font-size="17.5px">p</text>
<text transform="translate(-61.6 6.3) scale(1 0.85)" font-size="11px" stroke="#000" stroke-width="0.6">⊥</text>
</g>
</svg></body></html>
